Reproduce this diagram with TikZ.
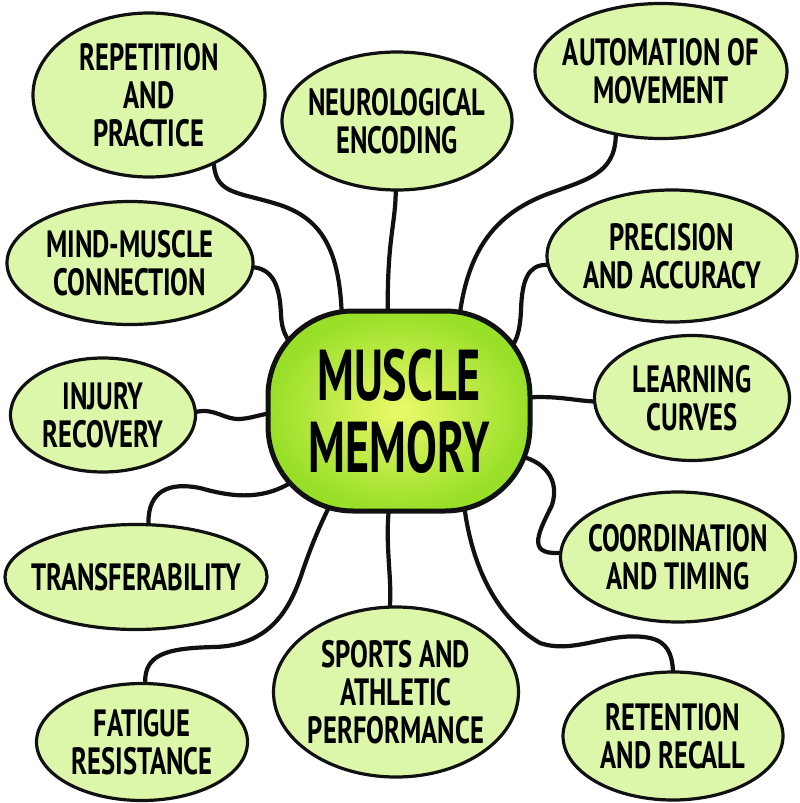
\documentclass[tikz,border=0pt]{standalone}
\usepackage{fontspec}
\setmainfont{PT Sans}[FakeStretch=0.7]
\newfontfamily\corefont{PT Sans}[FakeStretch=0.64]
\usetikzlibrary{shapes.geometric,backgrounds}
\definecolor{leaf}{HTML}{DDF7AA}
\definecolor{limein}{HTML}{ECF96A}
\definecolor{limeout}{HTML}{98DF28}
\definecolor{ink}{HTML}{111111}
\tikzset{
  idea/.style={ellipse, draw=ink, line width=3.2pt, fill=leaf, align=center,
               inner xsep=-15pt, inner ysep=-10pt,
               font=\fontsize{38}{38}\selectfont\bfseries},
  core/.style={draw=ink, line width=5pt, rounded corners=85pt,
               inner color=limein, outer color=limeout,
               minimum width=262pt, minimum height=200pt, align=center,
               font=\corefont\fontsize{72}{72}\selectfont\bfseries},
  link/.style={draw=ink, line width=4.2pt, line cap=round},
}

\begin{document}
\begin{tikzpicture}[x=1pt, y=-1pt]
  \useasboundingbox (0,0) rectangle (800,803);

  % centre
  \node[core] (mm) at (399,411) {MUSCLE\\MEMORY};

  % topics
  \node[idea, minimum width=232pt, minimum height=164pt] (rep) at (149,95) {REPETITION\\AND\\PRACTICE};
  \node[idea, minimum width=230pt, minimum height=138pt] (neuro) at (397,121) {NEUROLOGICAL\\ENCODING};
  \node[idea, minimum width=252pt, minimum height=135pt] (auto) at (661,71) {AUTOMATION OF\\MOVEMENT};
  \node[idea, minimum width=246pt, minimum height=123pt] (mind) at (130,263) {MIND-MUSCLE\\CONNECTION};
  \node[idea, minimum width=250pt, minimum height=132pt] (prec) at (672,256) {PRECISION\\AND ACCURACY};
  \node[idea, minimum width=185pt, minimum height=114pt] (injury) at (103,415) {INJURY\\RECOVERY};
  \node[idea, minimum width=195pt, minimum height=125pt] (learn) at (692,398) {LEARNING\\CURVES};
  \node[idea, minimum width=262pt, minimum height=105pt] (transfer) at (136,577) {TRANSFERABILITY};
  \node[idea, minimum width=235pt, minimum height=130pt] (coord) at (678,557) {COORDINATION\\AND TIMING};
  \node[idea, minimum width=211pt, minimum height=117pt] (fatigue) at (142,742) {FATIGUE\\RESISTANCE};
  \node[idea, minimum width=245pt, minimum height=170pt] (sports) at (396,692) {SPORTS AND\\ATHLETIC\\PERFORMANCE};
  \node[idea, minimum width=220pt, minimum height=128pt] (recall) at (673,736) {RETENTION\\AND RECALL};

  % connectors, under the nodes
  \begin{scope}[on background layer]
    \draw[link] (rep.-47) .. controls (216,195) and (240,192) .. (280,205)
                .. controls (325,220) and (342,255) .. ([shift={(-57,-81)}]mm.center);
    \draw[link] (neuro.-91) .. controls (395,230) and (386,240) .. ([shift={(-11,-81)}]mm.center);
    \draw[link] (auto.-125) .. controls (615,175) and (585,180) .. (545,195)
                .. controls (495,215) and (465,250) .. ([shift={(59,-81)}]mm.center);
    \draw[link] (mind.-2) .. controls (275,270) and (280,290) .. (281,315)
                .. controls (282,335) and (290,345) .. ([shift={(-99,-61)}]mm.center);
    \draw[link] (prec.-176) .. controls (528,265) and (522,280) .. (521,310)
                .. controls (520,335) and (515,345) .. ([shift={(106,-56)}]mm.center);
    \draw[link] (injury.2) .. controls (215,408) and (225,420) .. (240,419)
                .. controls (255,418) and (265,412) .. ([shift={(-114,1)}]mm.center);
    \draw[link] (learn.182) .. controls (570,400) and (555,395) .. ([shift={(121,-13)}]mm.center);
    \draw[link] (transfer.77) .. controls (148,490) and (170,482) .. (200,488)
                .. controls (235,498) and (265,500) .. ([shift={(-104,69)}]mm.center);
    \draw[link] ([shift={(116,44)}]mm.center) .. controls (545,460) and (560,480) .. (552,505)
                .. controls (540,530) and (525,555) .. (coord.178);
    \draw[link] (fatigue.87) .. controls (145,655) and (165,648) .. (215,647)
                .. controls (270,645) and (290,610) .. (303,570)
                .. controls (315,535) and (325,515) .. ([shift={(-64,84)}]mm.center);
    \draw[link] ([shift={(-9,89)}]mm.center) .. controls (384,540) and (392,575) .. (sports.94);
    \draw[link] ([shift={(64,84)}]mm.center) .. controls (470,570) and (500,620) .. (540,643)
                .. controls (575,655) and (610,630) .. (650,638)
                .. controls (668,642) and (672,655) .. (recall.90);
  \end{scope}
\end{tikzpicture}
\end{document}
